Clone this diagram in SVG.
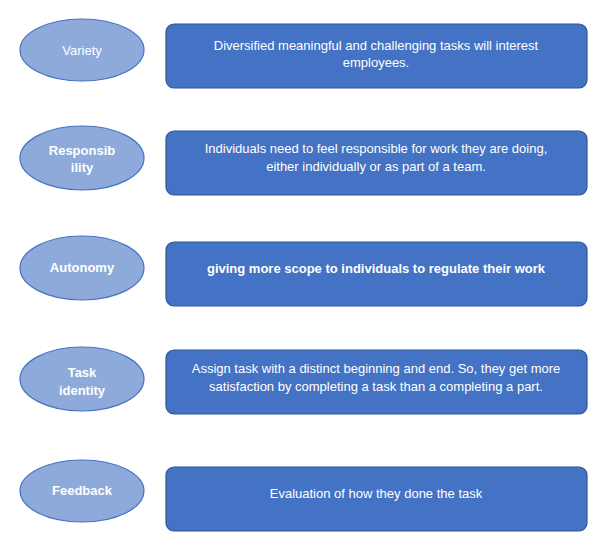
<svg xmlns="http://www.w3.org/2000/svg" width="600" height="546" viewBox="0 0 600 546">
<style>
.e{fill:#8EAADB;stroke:#4472C4;stroke-width:1.2}
.r{fill:#4472C4;stroke:#2F5597;stroke-width:1.2}
text{font-family:"Liberation Sans",Arial,sans-serif;font-size:13px;fill:#fff;text-anchor:middle}
.b{font-weight:bold}
</style>
<rect width="600" height="546" fill="#fff"/>
<g id="n1"><ellipse class="e" cx="82" cy="50" rx="62" ry="31"/><text x="82" y="55">Variety</text>
<rect class="r" x="166" y="24" width="421" height="64" rx="8"/><text x="376" y="50">Diversified meaningful and challenging tasks will interest</text><text x="376" y="67">employees.</text></g>
<g id="n2"><ellipse class="e" cx="82" cy="158" rx="62" ry="32"/><text class="b" x="82" y="155">Responsib</text><text class="b" x="82" y="172">ility</text>
<rect class="r" x="166" y="131" width="421" height="64" rx="8"/><text x="376" y="153">Individuals need to feel responsible for work they are doing,</text><text x="376" y="171">either individually or as part of a team.</text></g>
<g id="n3"><ellipse class="e" cx="82" cy="268" rx="62" ry="32"/><text class="b" x="82" y="272">Autonomy</text>
<rect class="r" x="166" y="242" width="421" height="64" rx="8"/><text class="b" x="376" y="273">giving more scope to individuals to regulate their work</text></g>
<g id="n4"><ellipse class="e" cx="82" cy="379" rx="62" ry="32"/><text class="b" x="82" y="377">Task</text><text class="b" x="82" y="395">identity</text>
<rect class="r" x="166" y="350" width="421" height="64" rx="8"/><text x="376" y="373">Assign task with a distinct beginning and end. So, they get more</text><text x="376" y="391">satisfaction by completing a task than a completing a part.</text></g>
<g id="n5"><ellipse class="e" cx="82" cy="491" rx="62" ry="31"/><text class="b" x="82" y="495">Feedback</text>
<rect class="r" x="166" y="467" width="421" height="64" rx="8"/><text x="376" y="498">Evaluation of how they done the task</text></g>
<g id="connectors"/>
</svg>
